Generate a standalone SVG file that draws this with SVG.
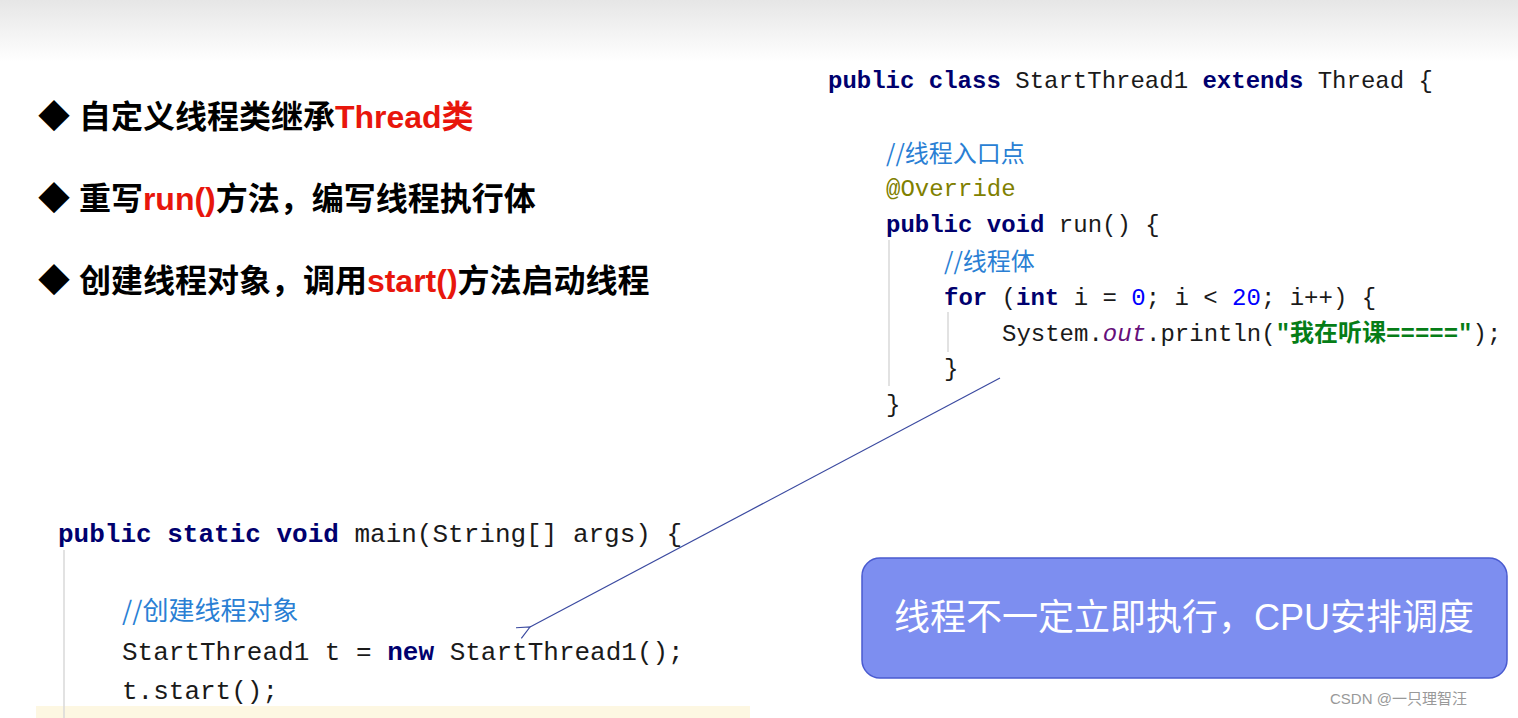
<svg xmlns="http://www.w3.org/2000/svg" width="1518" height="718" viewBox="0 0 1518 718">
<defs>
<linearGradient id="top" x1="0" y1="0" x2="0" y2="1"><stop offset="0" stop-color="#e6e6e6"/><stop offset="1" stop-color="#ffffff"/></linearGradient>
<marker id="ah" markerWidth="14" markerHeight="14" refX="1" refY="7" orient="auto" markerUnits="userSpaceOnUse"><path d="M14,1 L1,7 L14,13" fill="none" stroke="#3b4aa0" stroke-width="1.2"/></marker>
<style>
.b{font-family:"Liberation Sans","Noto Sans CJK SC",sans-serif;font-weight:bold;font-size:32px;fill:#000}
.r{fill:#e8160c}
.c{font-family:"Liberation Mono","Noto Sans CJK SC",monospace;font-size:24px;fill:#1a1a1a}
.m{font-size:26px}
.k{fill:#00006e;font-weight:bold}
.cm{fill:#2a7fd4;font-family:"Noto Sans CJK SC",sans-serif}
.an{fill:#808000}
.n{fill:#0000ff}
.s{fill:#067d17;font-weight:bold}
.g{stroke:#d8d8d8;stroke-width:1.5}
</style>
</defs>
<rect width="1518" height="718" fill="#fff"/>
<rect width="1518" height="62" fill="url(#top)"/>
<g id="bullets">
<text class="b" x="38" y="128">◆ 自定义线程类继承<tspan class="r">Thread类</tspan></text>
<text class="b" x="38" y="210">◆ 重写<tspan class="r">run()</tspan>方法，编写线程执行体</text>
<text class="b" x="38" y="292">◆ 创建线程对象，调用<tspan class="r">start()</tspan>方法启动线程</text>
</g>
<g id="code-class">
<line class="g" x1="889" y1="240" x2="889" y2="386"/>
<line class="g" x1="948" y1="312" x2="948" y2="352"/>
<text class="c" x="828" y="88"><tspan class="k">public class</tspan> StartThread1 <tspan class="k">extends</tspan> Thread {</text>
<text class="c cm" x="886" y="162">//线程入口点</text>
<text class="c an" x="886" y="196" font-size="20">@Override</text>
<text class="c" x="886" y="232"><tspan class="k">public void</tspan> run() {</text>
<text class="c cm" x="944" y="270">//线程体</text>
<text class="c" x="944" y="305"><tspan class="k">for</tspan> (<tspan class="k">int</tspan> i = <tspan class="n">0</tspan>; i &lt; <tspan class="n">20</tspan>; i++) {</text>
<text class="c" x="1002" y="341">System.<tspan font-style="italic" fill="#660e7a">out</tspan>.println(<tspan class="s">"我在听课=====</tspan><tspan class="s" font-weight="normal">"</tspan>);</text>
<text class="c" x="944" y="376">}</text>
<text class="c" x="886" y="412">}</text>
</g>
<g id="code-main">
<rect x="36" y="706" width="714" height="12" fill="#fdf7e2"/>
<line class="g" x1="64" y1="550" x2="64" y2="718"/>
<text class="c m" x="58" y="542"><tspan class="k">public static void</tspan> main(String[] args) {</text>
<text class="c m cm" x="122" y="620">//创建线程对象</text>
<text class="c m" x="122" y="660">StartThread1 t = <tspan class="k">new</tspan> StartThread1();</text>
<text class="c m" x="122" y="699">t.start();</text>
</g>
<g id="connectors">
<line x1="1000" y1="378" x2="530" y2="627" stroke="#3b4aa0" stroke-width="1.2" marker-end="url(#ah)"/>
</g>
<g id="callout">
<rect x="862" y="558" width="645" height="120" rx="18" fill="#7d8ef0" stroke="#4a5bd0" stroke-width="1.5"/>
<text x="1184" y="630" text-anchor="middle" font-family="Liberation Sans,'Noto Sans CJK SC',sans-serif" font-size="36" fill="#fff">线程不一定立即执行，CPU安排调度</text>
</g>
<text x="1330" y="704" font-family="Liberation Sans,'Noto Sans CJK SC',sans-serif" font-size="15" fill="#999">CSDN @一只理智汪</text>
</svg>
